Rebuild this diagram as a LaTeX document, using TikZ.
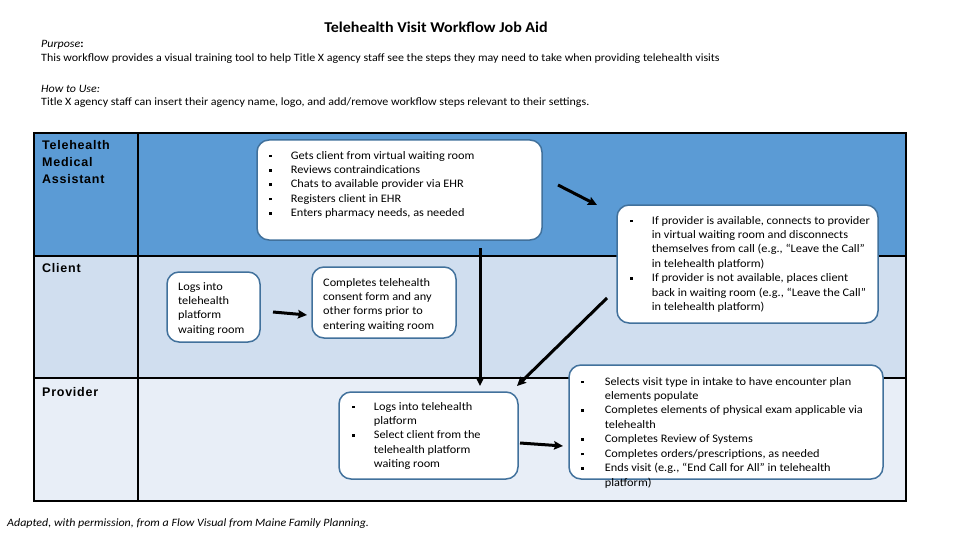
\documentclass[tikz,border=0pt]{standalone}
\usepackage{fontspec}
\setmainfont[FakeStretch=1.07]{Carlito}
\newfontfamily\lanefont[LetterSpace=6]{Liberation Sans}
\usetikzlibrary{arrows.meta}
\definecolor{rowA}{RGB}{91,155,213}
\definecolor{rowB}{RGB}{208,222,239}
\definecolor{rowC}{RGB}{232,238,247}
\definecolor{boxline}{RGB}{65,113,156}
\newcommand{\bul}[1]{\makebox[#1][l]{\rule[1.9pt]{2.6pt}{2.6pt}}}
\begin{document}
\begin{tikzpicture}[x=1pt,y=-1pt,
  grid/.style={line width=2pt,black},
  box/.style={draw=boxline,line width=1.5pt,fill=white,rounded corners=12pt,outer sep=0pt,inner sep=0pt,anchor=north west},
  txt/.style={anchor=base west,align=left,inner sep=0pt,font=\fontsize{11.5}{14.45}\selectfont},
  lane/.style={anchor=base west,align=left,inner sep=0pt,font=\lanefont\bfseries\fontsize{12.5}{16.5}\selectfont},
  head/.style={anchor=base west,inner sep=0pt,font=\fontsize{11.2}{12}\selectfont},
  arr/.style={line width=3pt,-{Stealth[length=9pt,width=8.5pt,inset=1.5pt]}}]
\useasboundingbox (0,0) rectangle (960,540);
% header
\node[anchor=base,inner sep=0pt,font=\bfseries\fontsize{15}{16}\selectfont] (title) at (436,33) {Telehealth Visit Workflow Job Aid};
\node[head] (purp) at (41,47.5) {\textit{Purpose}\textbf{:}};
\node[head] (purpT) at (41,62) {This workflow provides a visual training tool to help Title X agency staff see the steps they may need to take when providing telehealth visits};
\node[head] (how) at (41,92.5) {\textit{How to Use:}};
\node[head] (howT) at (41,105.5) {Title X agency staff can insert their agency name, logo, and add/remove workflow steps relevant to their settings.};
% table
\fill[rowA] (34,133) rectangle (906,256);
\fill[rowB] (34,256) rectangle (906,378);
\fill[rowC] (34,378) rectangle (906,501);
\draw[grid] (34,256) -- (906,256);
\draw[grid] (34,378) -- (906,378);
\draw[grid] (138,133) -- (138,501);
\draw[grid] (34,133) rectangle (906,501);
% lane labels (anchor = baseline of last line)
\node[lane] (lTMA) at (42,183) {Telehealth\\Medical\\Assistant};
\node[lane] (lCli) at (42,272) {Client};
\node[lane] (lPro) at (42,396) {Provider};
% boxes
\node[box,minimum width=285pt,minimum height=100pt] (tma) at (257,140) {};
\node[box,minimum width=261pt,minimum height=118pt] (cons) at (617,205) {};
\node[box,minimum width=93pt,minimum height=70pt] (log) at (167,272) {};
\node[box,minimum width=144pt,minimum height=71pt] (form) at (312,267) {};
\node[box,minimum width=179pt,minimum height=87pt] (plog) at (339,392) {};
\node[box,minimum width=314pt,minimum height=114pt] (visit) at (569,365) {};
% texts (anchor = baseline of last line)
\node[txt] (tmaT) at (268.7,216.8) {\bul{22pt}Gets client from virtual waiting room\\
\bul{22pt}Reviews contraindications\\
\bul{22pt}Chats to available provider via EHR\\
\bul{22pt}Registers client in EHR\\
\bul{22pt}Enters pharmacy needs, as needed};
\node[txt] (consT) at (629.7,310.7) {\bul{22pt}If provider is available, connects to provider\\
\hspace*{22pt}in virtual waiting room and disconnects\\
\hspace*{22pt}themselves from call (e.g., “Leave the Call”\\
\hspace*{22pt}in telehealth platform)\\
\bul{22pt}If provider is not available, places client\\
\hspace*{22pt}back in waiting room (e.g., “Leave the Call”\\
\hspace*{22pt}in telehealth platform)};
\node[txt] (logT) at (178,333.4) {Logs into\\telehealth\\platform\\waiting room};
\node[txt] (formT) at (323,329.4) {Completes telehealth\\consent form and any\\other forms prior to\\entering waiting room};
\node[txt] (plogT) at (351.7,467.8) {\bul{22pt}Logs into telehealth\\
\hspace*{22pt}platform\\
\bul{22pt}Select client from the\\
\hspace*{22pt}telehealth platform\\
\hspace*{22pt}waiting room};
\node[txt] (visitT) at (580.7,486.2) {\bul{24pt}Selects visit type in intake to have encounter plan\\
\hspace*{24pt}elements populate\\
\bul{24pt}Completes elements of physical exam applicable via\\
\hspace*{24pt}telehealth\\
\bul{24pt}Completes Review of Systems\\
\bul{24pt}Completes orders/prescriptions, as needed\\
\bul{24pt}Ends visit (e.g., “End Call for All” in telehealth\\
\hspace*{24pt}platform)};
% arrows
\coordinate (a1s) at (558,185); \coordinate (a1e) at (597,205);
\coordinate (a2s) at (273,312); \coordinate (a2e) at (307,315);
\coordinate (a3s) at (480,248); \coordinate (a3e) at (480,386);
\coordinate (a4s) at (607,298); \coordinate (a4e) at (517,386);
\coordinate (a5s) at (520,443); \coordinate (a5e) at (563,446);
\draw[arr] (a1s) -- (a1e);
\draw[arr] (a2s) -- (a2e);
\draw[arr] (a3s) -- (a3e);
\draw[arr] (a4s) -- (a4e);
\draw[arr] (a5s) -- (a5e);
% footer
\node[head,font=\itshape\fontsize{11.2}{12}\selectfont] (foot) at (7,526) {Adapted, with permission, from a Flow Visual from Maine Family Planning.};
\end{tikzpicture}
\end{document}
